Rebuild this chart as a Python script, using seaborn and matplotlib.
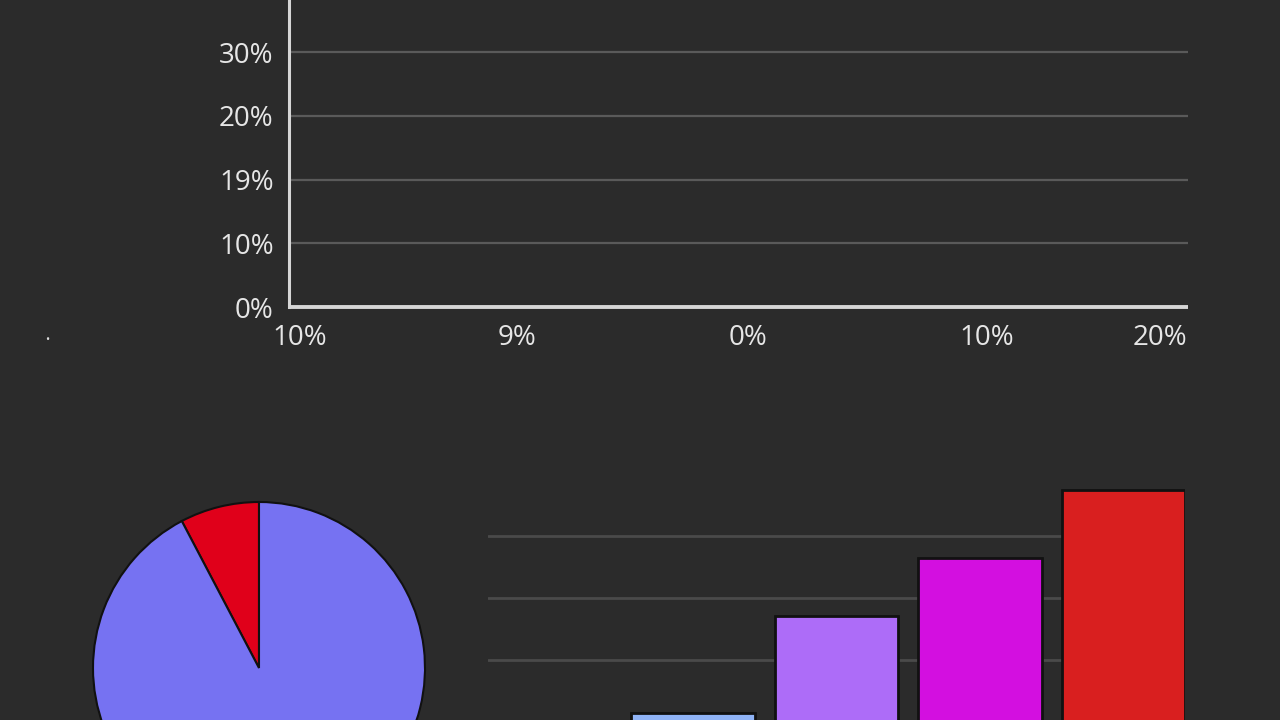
import matplotlib
matplotlib.use("Agg")
import matplotlib.pyplot as plt
import seaborn as sns
import pandas as pd

# ---- data ----
top_y_levels = [0, 1, 2, 3, 4, 5]
top_y_labels = ["0%", "10%", "19%", "20%", "30%", "40%"]
top_x_positions = [0.012, 0.254, 0.511, 0.776, 0.969]
top_x_labels = ["10%", "9%", "0%", "10%", "20%"]

pie_labels = ["Red", "Blue"]
pie_values = [7.7, 92.3]
pie_colors = ["#e0001a", "#7672f2"]

bar_categories = ["A", "B", "C", "D", "E"]
bar_values = [0.0, 11.5, 27.1, 36.5, 47.4]
bar_colors = ["#8fb3f6", "#8fb3f6", "#ad6cf8", "#d30fe0", "#d91f1f"]
bar_grid = [20, 30, 40]

BG = "#2b2b2b"
sns.set_theme(style="dark")
plt.rcParams["font.family"] = ["Open Sans", "DejaVu Sans"]

W, H = 1280, 720
fig = plt.figure(figsize=(12.8, 7.2), dpi=100, facecolor=BG)

def px_axes(left, top, right, bottom):
    return fig.add_axes([left / W, 1 - bottom / H, (right - left) / W, (bottom - top) / H])

# ---- top (empty) chart ----
ax1 = px_axes(289, 307 - 5.2 * 63.7, 1188, 307)
ax1.set_facecolor(BG)
ax1.set_xlim(0, 1)
ax1.set_ylim(0, 5.2)
ax1.set_yticks(top_y_levels)
ax1.set_yticklabels(top_y_labels)
ax1.set_xticks(top_x_positions)
ax1.set_xticklabels(top_x_labels)
ax1.tick_params(axis="y", length=0, pad=11, labelsize=20, labelcolor="#e6e6e6")
ax1.tick_params(axis="x", length=0, pad=12, labelsize=20, labelcolor="#e6e6e6")
ax1.grid(axis="y", color="#5a5a5a", linewidth=1.6)
ax1.grid(axis="x", visible=False)
for s in ["top", "right"]:
    ax1.spines[s].set_visible(False)
ax1.spines["left"].set_color("#d6d6d6")
ax1.spines["left"].set_linewidth(2.2)
ax1.spines["bottom"].set_color("#d6d6d6")
ax1.spines["bottom"].set_linewidth(2.8)
ax1.spines["bottom"].set_capstyle("butt")

fig.text(47 / W, 1 - 340 / H, "\u2022", color="#dddddd", fontsize=8, ha="center", va="center")

# ---- pie ----
axp = px_axes(259 - 166, 668 - 166, 259 + 166, 668 + 166)
axp.set_facecolor(BG)
axp.pie(pie_values, colors=pie_colors, startangle=90, counterclock=True,
        wedgeprops=dict(edgecolor="#111111", linewidth=1.5))
axp.set_xlim(-1.0, 1.0)
axp.set_ylim(-1.0, 1.0)
axp.set_aspect("equal")
axp.axis("off")

# ---- bars ----
unit = 6.2  # px per value unit
zero_y = 660 + 20 * unit
axb = px_axes(488, zero_y - 56 * unit, 1185, zero_y)
axb.set_facecolor(BG)
df = pd.DataFrame({"cat": bar_categories, "val": bar_values})
sns.barplot(data=df, x="cat", y="val", hue="cat", palette=bar_colors, legend=False,
            width=0.86, edgecolor="#111111", linewidth=2, saturation=1, ax=axb, zorder=3)
axb.set_xlim(-0.43, 4.43)
axb.set_ylim(0, 56)
axb.set_yticks(bar_grid)
axb.set_xticks([])
axb.set_yticklabels([])
axb.tick_params(length=0)
axb.set_xlabel("")
axb.set_ylabel("")
axb.grid(axis="y", color="#4a4a4a", linewidth=2, zorder=0)
axb.set_axisbelow(True)
for s in axb.spines.values():
    s.set_visible(False)

fig.savefig("out.png", dpi=100, facecolor=BG)
